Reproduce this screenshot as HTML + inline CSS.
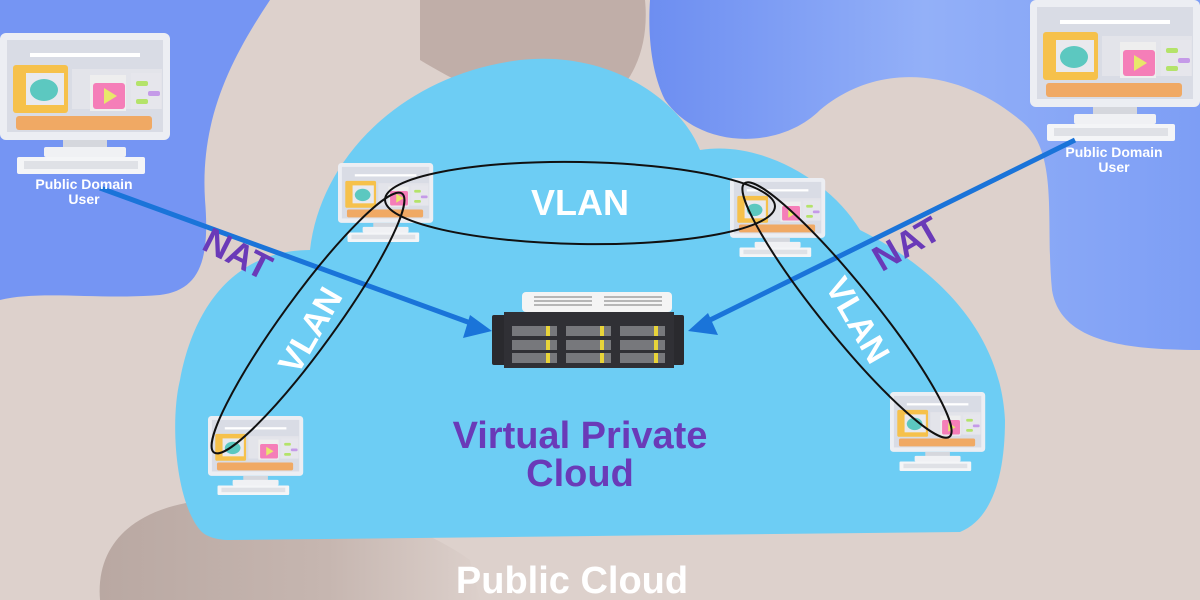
<!DOCTYPE html>
<html><head><meta charset="utf-8"><style>html,body{margin:0;padding:0;width:1200px;height:600px;overflow:hidden}</style></head>
<body>
<svg width="1200" height="600" viewBox="0 0 1200 600" xmlns="http://www.w3.org/2000/svg" font-family="Liberation Sans, sans-serif">
<defs>
<linearGradient id="bg" x1="0" y1="0" x2="1" y2="0"><stop offset="0" stop-color="#6d8ef1"/><stop offset="0.5" stop-color="#93b0f8"/><stop offset="1" stop-color="#7d9ef5"/></linearGradient>
<linearGradient id="tp" x1="0" y1="0" x2="1" y2="0"><stop offset="0" stop-color="#b9a8a2"/><stop offset="0.6" stop-color="#c6b6b0"/><stop offset="1" stop-color="#dcd0cb"/></linearGradient>
<g id="mon">
<rect x="0" y="0" width="170" height="107" rx="6" fill="#eceef3"/>
<rect x="7" y="7" width="156" height="92" fill="#d9dce5"/>
<rect x="30" y="20" width="110" height="4" fill="#fff"/>
<rect x="13" y="32" width="55" height="48" rx="3" fill="#f6c14b"/>
<rect x="26" y="40" width="38" height="32" fill="#e9e9ee"/>
<ellipse cx="44" cy="57" rx="14" ry="11" fill="#5cc8c0"/>
<rect x="72" y="36" width="90" height="40" fill="#e3e4ea"/>
<rect x="90" y="42" width="36" height="36" fill="#eee"/>
<rect x="93" y="50" width="32" height="26" rx="3" fill="#f57eb8"/>
<polygon points="104,55 104,71 117,63" fill="#e8e76a"/>
<rect x="131" y="40" width="30" height="36" fill="#e6e6ec"/>
<rect x="136" y="48" width="12" height="5" rx="2" fill="#b4e36a"/><rect x="148" y="58" width="12" height="5" rx="2" fill="#c59ae8"/><rect x="136" y="66" width="12" height="5" rx="2" fill="#b4e36a"/>
<rect x="16" y="83" width="136" height="14" rx="3" fill="#f0a964"/>
<rect x="63" y="107" width="44" height="8" fill="#d5d7dd"/>
<rect x="44" y="114" width="82" height="10" rx="2" fill="#f0f1f4"/>
<rect x="17" y="124" width="128" height="17" rx="2" fill="#f4f5f7"/>
<rect x="24" y="128" width="114" height="8" fill="#dfe1e6"/>
</g>
</defs>
<rect width="1200" height="600" fill="#ddd1cc"/>
<!-- left blue -->
<path d="M0 0 L270 0 C230 60 200 120 205 200 C210 260 200 290 160 295 C100 300 40 290 0 300 Z" fill="#7595f3"/>
<!-- right blue -->
<path d="M650 0 L1200 0 L1200 350 C1120 350 1060 340 1052 290 C1045 220 1060 150 1020 120 C960 70 880 60 820 110 C780 150 700 150 665 100 C650 70 648 30 650 0Z" fill="url(#bg)"/>
<!-- taupe -->
<path d="M420 0 L645 0 C650 50 630 95 590 110 C530 120 470 90 420 60 Z" fill="#c0aea8"/>
<path d="M100 600 C95 540 140 505 210 500 C300 495 400 510 470 560 L480 600 Z" fill="url(#tp)"/>
<!-- cloud -->
<path d="M200 530 C175 500 170 420 180 380 C195 300 240 250 310 250 C320 160 400 75 520 60 C610 50 680 100 700 150 C760 140 830 180 860 230 C920 260 1000 320 1005 420 C1005 480 990 520 960 532 L230 540 C215 540 205 536 200 530Z" fill="#6dcdf4"/>
<use href="#mon" transform="translate(0,33)"/>
<use href="#mon" transform="translate(1030,0)"/>
<use href="#mon" transform="translate(338,163) scale(0.56)"/>
<use href="#mon" transform="translate(730,178) scale(0.56)"/>
<use href="#mon" transform="translate(208,416) scale(0.56)"/>
<use href="#mon" transform="translate(890,392) scale(0.56)"/>
<!-- server -->
<g transform="translate(492,290)">
<rect x="30" y="2" width="150" height="20" rx="4" fill="#f4f4f4"/>
<g stroke="#777" stroke-width="1"><line x1="42" y1="7" x2="100" y2="7"/><line x1="42" y1="11" x2="100" y2="11"/><line x1="42" y1="15" x2="100" y2="15"/><line x1="112" y1="7" x2="170" y2="7"/><line x1="112" y1="11" x2="170" y2="11"/><line x1="112" y1="15" x2="170" y2="15"/></g>
<rect x="0" y="25" width="192" height="50" rx="2" fill="#2a2a2e"/>
<rect x="12" y="22" width="170" height="56" fill="#303035"/>
<g fill="#77787c"><rect x="20" y="36" width="45" height="10"/><rect x="74" y="36" width="45" height="10"/><rect x="128" y="36" width="45" height="10"/><rect x="20" y="50" width="45" height="10"/><rect x="74" y="50" width="45" height="10"/><rect x="128" y="50" width="45" height="10"/><rect x="20" y="63" width="45" height="10"/><rect x="74" y="63" width="45" height="10"/><rect x="128" y="63" width="45" height="10"/></g>
<g fill="#e8d43a"><rect x="54" y="36" width="4" height="10"/><rect x="108" y="36" width="4" height="10"/><rect x="162" y="36" width="4" height="10"/><rect x="54" y="50" width="4" height="10"/><rect x="108" y="50" width="4" height="10"/><rect x="162" y="50" width="4" height="10"/><rect x="54" y="63" width="4" height="10"/><rect x="108" y="63" width="4" height="10"/><rect x="162" y="63" width="4" height="10"/></g>
</g>
<!-- arrows -->
<g stroke="#1a74d9" stroke-width="5" fill="#1a74d9">
<line x1="100" y1="188" x2="476" y2="325"/>
<line x1="1075" y1="140" x2="704" y2="323"/>
</g>
<polygon points="492,331 470,315 463,338" fill="#1a74d9"/>
<polygon points="688,331 708,313 718,335" fill="#1a74d9"/>
<!-- VLAN ellipses -->
<g fill="none" stroke="#111" stroke-width="2">
<ellipse cx="580" cy="203" rx="195" ry="41" transform="rotate(1 580 203)"/>
<ellipse cx="308" cy="323" rx="160" ry="26" transform="rotate(-54 308 323)"/>
<ellipse cx="847" cy="310" rx="163" ry="26" transform="rotate(51 847 310)"/>
</g>
<g fill="#fff" font-weight="bold" text-anchor="middle">
<text x="580" y="215" font-size="36">VLAN</text>
<text x="310" y="342" font-size="34" transform="rotate(-60 310 330)">VLAN</text>
<text x="858" y="332" font-size="34" transform="rotate(60 858 320)">VLAN</text>
<text x="572" y="593" font-size="38">Public Cloud</text>
<text x="84" y="189" font-size="14">Public Domain</text>
<text x="84" y="204" font-size="14">User</text>
<text x="1114" y="157" font-size="14">Public Domain</text>
<text x="1114" y="172" font-size="14">User</text>
</g>
<g fill="#6a3ab8" font-weight="bold" text-anchor="middle">
<text x="237" y="266" font-size="36" transform="rotate(27 237 255)">NAT</text>
<text x="907" y="256" font-size="36" transform="rotate(-30 907 245)">NAT</text>
<text x="580" y="448" font-size="38">Virtual Private</text>
<text x="580" y="486" font-size="38">Cloud</text>
</g>
</svg>
</body></html>
